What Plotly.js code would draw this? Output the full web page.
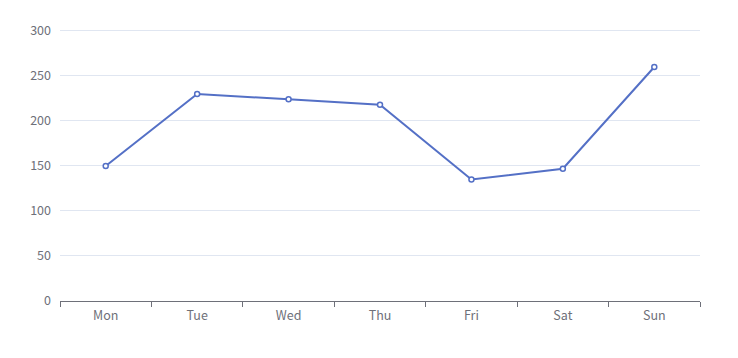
<!DOCTYPE html>
<html>
<head>
<meta charset="utf-8">
<script src="https://cdn.plot.ly/plotly-3.0.1.min.js"></script>
<style>html,body{margin:0;padding:0;background:#fff;}#chart{width:738px;height:358px;}</style>
</head>
<body>
<div id="chart"></div>
<script>
const days = ["Mon", "Tue", "Wed", "Thu", "Fri", "Sat", "Sun"];
const values = [150, 230, 224, 218, 135, 147, 260];
const yTicks = [0, 50, 100, 150, 200, 250, 300];

const font = "'Noto Sans CJK SC', 'Noto Sans', sans-serif";
Plotly.newPlot("chart", [{
  x: days,
  y: values,
  type: "scatter",
  mode: "lines+markers",
  line: {color: "#5470c6", width: 2},
  marker: {size: 5, color: "#ffffff", line: {color: "#5470c6", width: 1.5}},
  hoverinfo: "x+y"
}], {
  width: 738, height: 358,
  margin: {l: 60, r: 38, t: 27, b: 57},
  paper_bgcolor: "#fff", plot_bgcolor: "#fff",
  showlegend: false,
  font: {family: font, size: 12, color: "#6E7079"},
  xaxis: {
    type: "category",
    range: [-0.5, 6.5],
    showgrid: false,
    zeroline: false,
    showline: true, linecolor: "#6E7079", linewidth: 1,
    ticks: "outside", tickson: "boundaries", ticklen: 5, tickcolor: "#6E7079",
    ticklabelstandoff: 3,
    tickfont: {family: font, size: 12.5, color: "#6E7079"},
    fixedrange: true
  },
  yaxis: {
    range: [0, 304.4],
    tickvals: yTicks,
    showgrid: true, gridcolor: "#E0E6F1", gridwidth: 1,
    zeroline: false, showline: false, ticks: "",
    ticklabelstandoff: 8,
    tickfont: {family: font, size: 12.5, color: "#6E7079"},
    fixedrange: true
  }
}, {displayModeBar: false, staticPlot: true});
</script>
</body>
</html>
